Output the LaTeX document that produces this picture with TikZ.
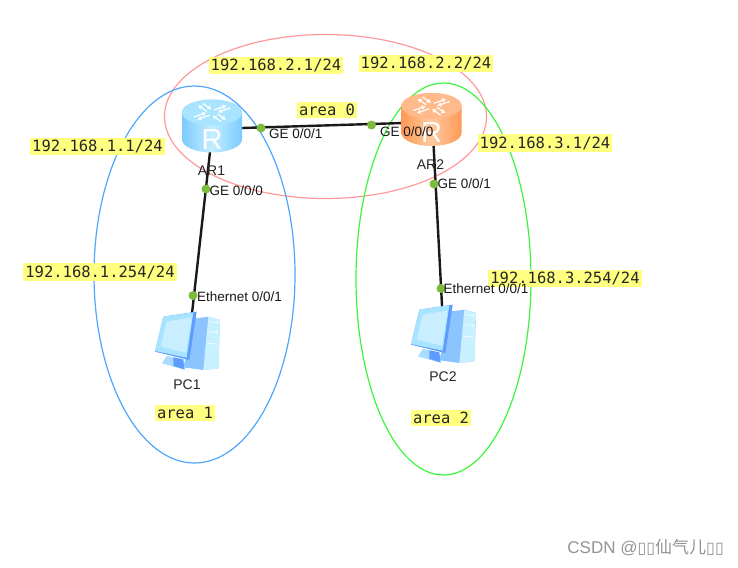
\documentclass[tikz,border=0pt]{standalone}
\usepackage{fontspec}
\setmainfont{Liberation Sans}
\newfontfamily\monof{DejaVu Sans Mono}
\newfontfamily\cjkf{Noto Sans CJK SC}
\newfontfamily\symf{DejaVu Sans}
\usetikzlibrary{arrows.meta}
\definecolor{lab}{HTML}{FFFF80}
\definecolor{dotg}{HTML}{7DBB3C}
\definecolor{bluE}{HTML}{7CCBFF}
\definecolor{bluM}{HTML}{C2EEFF}
\definecolor{bluT}{HTML}{A8E4FF}
\definecolor{orgE}{HTML}{FF9A55}
\definecolor{orgM}{HTML}{FFC9A0}
\definecolor{orgT}{HTML}{FFB98A}
\definecolor{pcA}{HTML}{C9F0FF}
\definecolor{pcB}{HTML}{8CC4FF}
\definecolor{pcC}{HTML}{A9DDFF}
\definecolor{pcD}{HTML}{5E9BFF}
\definecolor{pcE}{HTML}{A8E4FF}
\definecolor{pcF}{HTML}{C8EEFF}
\tikzset{
  iplabel/.style={fill=lab,font=\monof\fontsize{15.5}{17}\selectfont,text=black!85,inner xsep=2pt,inner ysep=2.5pt,anchor=center},
  portlabel/.style={font=\fontsize{13.5}{15}\selectfont,text=black!90,inner sep=0pt,anchor=west},
  namelabel/.style={font=\fontsize{14}{16}\selectfont,text=black!85,inner sep=0pt},
  portdot/.style={circle,fill=dotg,draw=none,minimum size=9pt,inner sep=0pt},
  link/.style={line width=2.4pt,black!90},
  arrw/.style={white,line width=1.2pt,-{Latex[length=4pt,width=5pt]}},
  pics/router/.style n args={3}{code={
    \path[left color=#1,right color=#1,middle color=#2] (-30,-13) -- (-30,14) arc[start angle=180,end angle=0,x radius=30,y radius=13] -- (30,-13) arc[start angle=0,end angle=-180,x radius=30,y radius=13] -- cycle;
    \path[fill=#3] (0,-13) ellipse[x radius=30,y radius=13];
    \foreach \a in {35,125,215,305}{
      \begin{scope}[shift={(0,-13)},yscale=0.5,rotate=\a]
        \draw[arrw] (5,-3) -- (20,-3);
        \draw[arrw] (20,3) -- (5,3);
      \end{scope}}
    \node[text=white,font=\fontsize{29}{29}\selectfont,inner sep=0pt] at (0,14) {R};
  }},
  pics/pcicon/.style={code={
    \begin{scope}[x=0.3333pt,y=-0.3333pt]
    \path[fill=pcB] (165,115) -- (205,110) -- (240,120) -- (235,265) -- (190,270) -- (130,262) -- cycle;
    \path[fill=pcA] (205,110) -- (240,120) -- (235,265) -- (190,270) -- cycle;
    \draw[white,line width=0.7pt] (208,125) -- (235,128) (208,155) -- (235,158) (206,190) -- (232,193);
    \path[fill=pcC] (80,228) -- (130,238) -- (135,270) -- (66,250) -- cycle;
    \path[fill=pcD] (100,232) -- (130,238) -- (133,268) -- (100,258) -- cycle;
    \path[fill=pcD] (70,110) -- (170,95) -- (148,240) -- (45,215) -- cycle;
    \path[fill=pcE] (70,110) -- (160,97) -- (140,233) -- (45,213) -- cycle;
    \path[fill=pcF] (80,125) -- (155,112) -- (138,218) -- (62,200) -- cycle;
    \end{scope}
  }}
}
\begin{document}
\begin{tikzpicture}[x=1pt,y=-1pt]
\useasboundingbox[fill=white] (0,0) rectangle (738,567);
\node[inner sep=0pt,minimum width=60pt,minimum height=53pt] (ar1) at (212,125.5) {};
\node[inner sep=0pt,minimum width=60pt,minimum height=53pt] (ar2) at (431.5,119) {};
\node[inner sep=0pt,minimum width=65pt,minimum height=60pt] (pc1) at (188,343) {};
\node[inner sep=0pt,minimum width=65pt,minimum height=60pt] (pc2) at (444,336) {};
\coordinate (ar1e) at (236,128.2);
\coordinate (ar2w) at (410,122.8);
\coordinate (ar1s) at (213,125);
\coordinate (ar2s) at (432.5,125);
\coordinate (pc1n) at (191.5,318);
\coordinate (pc2n) at (442.3,311);
\draw[draw=red!40,line width=1.2pt] (325.5,116.5) ellipse[x radius=161,y radius=82];
\draw[draw={rgb,255:red,77;green,166;blue,255},line width=1.2pt] (194.5,274.5) ellipse[x radius=100.5,y radius=188.5];
\draw[draw={rgb,255:red,60;green,245;blue,60},line width=1.2pt] (443.5,279) ellipse[x radius=87.5,y radius=196];
\draw[link] (ar1e) -- (ar2w);
\draw[link] (ar1s) -- (pc1n);
\draw[link] (ar2s) -- (pc2n);
\pic at (ar1) {router={bluE}{bluM}{bluT}};
\pic at (ar2) {router={orgE}{orgM}{orgT}};
\pic at (140,280) {pcicon};
\pic at (396,273) {pcicon};
\node[portdot] (d1) at (261,128) {};
\node[portdot] (d2) at (371.5,125) {};
\node[portdot] (d3) at (206,189) {};
\node[portdot] (d4) at (434,184) {};
\node[portdot] (d5) at (193,295.5) {};
\node[portdot] (d6) at (441,288.5) {};
\node[iplabel] (a1) at (276,65.5) {192.168.2.1/24};
\node[iplabel] (a2) at (426,63.5) {192.168.2.2/24};
\node[iplabel] (a3) at (97.5,146.5) {192.168.1.1/24};
\node[iplabel] (a4) at (545,143) {192.168.3.1/24};
\node[iplabel] (a5) at (100,272) {192.168.1.254/24};
\node[iplabel] (a6) at (565,278.5) {192.168.3.254/24};
\node[iplabel] (a7) at (327,110) {area 0};
\node[iplabel] (a8) at (185,413) {area 1};
\node[iplabel] (a9) at (441,418) {area 2};
\node[portlabel] (p1) at (269,134) {GE 0/0/1};
\node[portlabel] (p2) at (380,131.5) {GE 0/0/0};
\node[portlabel] (p3) at (209.5,190.5) {GE 0/0/0};
\node[portlabel] (p4) at (437.5,184) {GE 0/0/1};
\node[portlabel] (p5) at (197,296.5) {Ethernet 0/0/1};
\node[portlabel] (p6) at (443.5,289) {Ethernet 0/0/1};
\node[namelabel] (n1) at (211.5,171) {AR1};
\node[namelabel] (n2) at (430.5,164.5) {AR2};
\node[namelabel] (n3) at (187,385) {PC1};
\node[namelabel] (n4) at (443,377) {PC2};
\node[anchor=east,text=black!42,inner sep=0pt,font=\fontsize{17}{18}\selectfont] (wm) at (724,548) {CSDN @{\symf\fontsize{16}{16}\selectfont ▯▯}{\cjkf 仙气儿}{\symf\fontsize{16}{16}\selectfont ▯▯}};
\end{tikzpicture}
\end{document}
